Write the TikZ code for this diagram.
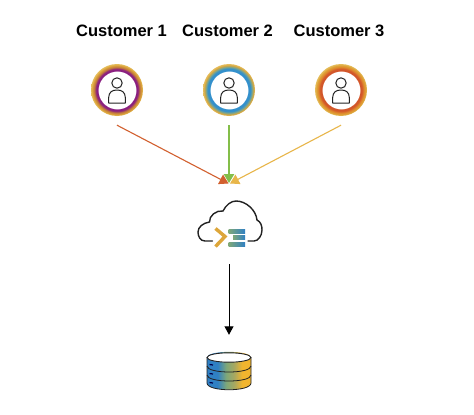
\documentclass[tikz,border=0pt]{standalone}
\usepackage{fontspec}
\setmainfont{Liberation Sans}
\usetikzlibrary{arrows.meta}
\definecolor{cA}{HTML}{D2602F}
\definecolor{cB}{HTML}{84BE4A}
\definecolor{cC}{HTML}{E8B64A}
\definecolor{dbblue}{HTML}{2F80C4}
\definecolor{dbgreen}{HTML}{7FA878}
\definecolor{dbolive}{HTML}{A8A860}
\definecolor{dbyellow}{HTML}{F2B52E}
\definecolor{ink}{HTML}{222222}
\definecolor{rpurple}{HTML}{8A1F80}
\definecolor{rochre}{HTML}{C27A3C}
\definecolor{rgoldA}{HTML}{DDA63A}
\definecolor{rgoldB}{HTML}{E6C060}
\definecolor{rblue}{HTML}{3390CC}
\definecolor{rsage}{HTML}{7FA78A}
\definecolor{rred}{HTML}{D2562A}
\definecolor{rorange}{HTML}{E08A2C}
\pgfdeclareradialshading{ringpurple}{\pgfpoint{0bp}{0bp}}{color(0bp)=(white); color(18.1bp)=(white); color(18.4bp)=(rpurple); color(20.2bp)=(rpurple); color(21.8bp)=(rochre); color(23.8bp)=(rgoldA); color(25bp)=(rgoldB); color(50bp)=(rgoldB)}
\pgfdeclareradialshading{ringblue}{\pgfpoint{0bp}{0bp}}{color(0bp)=(white); color(18.3bp)=(white); color(18.6bp)=(rblue); color(20.5bp)=(rblue); color(22.2bp)=(rsage); color(23.8bp)=(rgoldA); color(25bp)=(rgoldB); color(50bp)=(rgoldB)}
\pgfdeclareradialshading{ringorange}{\pgfpoint{0bp}{0bp}}{color(0bp)=(white); color(18.3bp)=(white); color(18.6bp)=(rred); color(20.2bp)=(rred); color(22bp)=(rorange); color(23.8bp)=(rgoldA); color(25bp)=(rgoldB); color(50bp)=(rgoldB)}
\pgfdeclarehorizontalshading{dbfill}{100bp}{color(0bp)=(dbblue); color(37bp)=(dbblue); color(47bp)=(dbgreen); color(56bp)=(dbolive); color(65bp)=(dbyellow); color(100bp)=(dbyellow)}
\tikzset{
  x=1pt,y=-1pt,
  label text/.style={font=\fontsize{16.5}{18}\selectfont\bfseries,inner sep=0pt},
  avatar/.style={circle,minimum size=52pt,inner sep=0pt,shade,shading=#1},
  feed/.style={line width=1.1pt,-{Triangle[length=9pt,width=10.5pt]}},
  store/.style={line width=1pt,draw=black,-{Triangle[length=8.5pt,width=9pt]}},
  cloudline/.style={draw=ink,line width=1.4pt,line cap=round},
  person/.pic={
    \draw[ink,line width=1pt] (0,-7) circle[radius=5.2];
    \draw[ink,line width=1pt,line join=round] (-8.3,13) -- (-8.3,7.5) .. controls (-8.3,2) and (-4.5,0) .. (0,0) .. controls (4.5,0) and (8.3,2) .. (8.3,7.5) -- (8.3,13) -- cycle;
  }
}
\begin{document}
\begin{tikzpicture}
\useasboundingbox (0,0) rectangle (474,415);
\fill[white] (0,0) rectangle (474,415);
\node[label text] (t1) at (121.5,31) {Customer 1};
\node[label text] (t2) at (227.5,31) {Customer 2};
\node[label text] (t3) at (339,31) {Customer 3};
\node[avatar=ringpurple] (c1) at (117,90) {};
\node[avatar=ringblue] (c2) at (229,90) {};
\node[avatar=ringorange] (c3) at (341,90) {};
\pic at (117,90) {person};
\pic at (229,90) {person};
\pic at (341,90) {person};
\coordinate (s1) at ([yshift=-9pt]c1.south);
\coordinate (s2) at ([yshift=-9pt]c2.south);
\coordinate (s3) at ([yshift=-9pt]c3.south);
\coordinate (ja) at (228.5,183.5);
\coordinate (jb) at (229,183);
\coordinate (jc) at (230,183.5);
\draw[feed,cC] (s3) -- (jc);
\draw[feed,cA] (s1) -- (ja);
\draw[feed,cB] (s2) -- (jb);
% cloud
\node[minimum width=66pt,minimum height=46pt,inner sep=0pt] (cloud) at (229,224) {};
\draw[cloudline] (212.5,241) -- (205,241) .. controls (200,241) and (198,236) .. (198,232) .. controls (198,227) and (203,223) .. (209.5,222)
  .. controls (209,216) and (216,210) .. (223,211) .. controls (226,205) and (231,201) .. (236,201) .. controls (246,201) and (256,210) .. (257,220) .. controls (261,222) and (262,226) .. (262,230) .. controls (262,236) and (258,241) .. (254,241) -- (248,241);
\draw[line width=3.4pt,color=rgoldA,line join=miter] (215.5,228.5) -- (225,236.5) -- (215.5,246.5);
\shade[left color=dbgreen,right color=dbblue] (228.5,229) rectangle (245,233);
\shade[left color=dbgreen,right color=dbblue] (233,235) rectangle (245,239.5);
\shade[left color=dbgreen,right color=dbblue] (228.5,242) rectangle (245,246);
% database
\node[minimum width=44pt,minimum height=36pt,inner sep=0pt] (db) at (229,371) {};
\shade[shading=dbfill] (207,357.5) -- (207,383) .. controls (207,392) and (251,392) .. (251,383) -- (251,357.5) .. controls (251,350) and (207,350) .. (207,357.5) -- cycle;
\draw[ink,line width=0.8pt] (207,357.5) -- (207,383) .. controls (207,392) and (251,392) .. (251,383) -- (251,357.5);
\draw[ink,line width=0.8pt] (207,366) .. controls (207,374) and (251,374) .. (251,366);
\draw[ink,line width=0.8pt] (207,375) .. controls (207,383) and (251,383) .. (251,375);
\draw[ink,line width=0.9pt,fill=white] (229,357.5) ellipse[x radius=22,y radius=4.7];
\draw[line width=1.2pt,color=black!70!blue] (209.5,364.5) -- (213,365);
\draw[line width=1.2pt,color=black!70!blue] (209.5,373.5) -- (213,374);
\draw[line width=1.2pt,color=black!70!blue] (209.5,382.5) -- (213,383);
\draw[store,shorten <=17pt,shorten >=18pt] (cloud.south) -- (db.north);
\end{tikzpicture}
\end{document}
